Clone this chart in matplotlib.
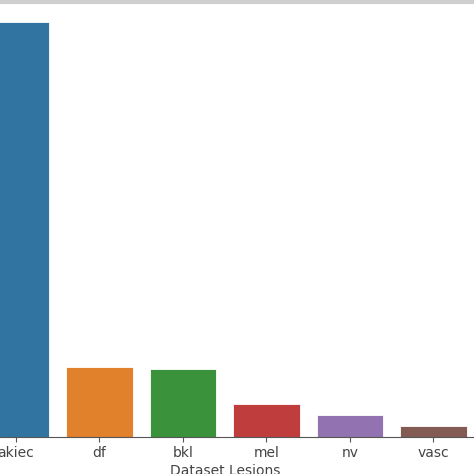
import matplotlib
matplotlib.use("Agg")
import matplotlib.pyplot as plt
from matplotlib.lines import Line2D

# lesion classes and bar heights (no y axis visible, values read proportionally)
lesions = ['akiec', 'df', 'bkl', 'mel', 'nv', 'vasc']
counts = [4000, 666, 656, 314, 207, 101]
colors = ['#3274a1', '#e1812c', '#3a923a', '#c03d3e', '#9372b2', '#845b53']

fig = plt.figure(figsize=(4.74, 4.74), dpi=100)
# the source is a crop: axes run off the left and top of the picture
ax = fig.add_axes([-25.8 / 474, 37.5 / 474, 501 / 474, 0.962])

x = range(len(lesions))
ax.bar(x, counts, width=0.8, color=colors, edgecolor='white', linewidth=0.6)
ax.set_xlim(-0.5, len(lesions) - 0.5)
ax.set_ylim(0, 4400)
ax.set_xticks(list(x))
ax.set_xticklabels(lesions, fontsize=10, color='#444444')
ax.set_xlabel('Dataset Lesions', fontsize=10, color='#444444', labelpad=3)
ax.tick_params(axis='x', colors='#555555', labelcolor='#444444', length=3.5)
ax.set_yticks([])
for s in ['top', 'right', 'left']:
    ax.spines[s].set_visible(False)
ax.spines['bottom'].set_color('#555555')

# grey page border at the very top of the crop
fig.add_artist(Line2D([0, 0.995], [0.995, 0.995], transform=fig.transFigure,
                      color='#cfcfcf', linewidth=3))

fig.savefig('out.png', dpi=100)
